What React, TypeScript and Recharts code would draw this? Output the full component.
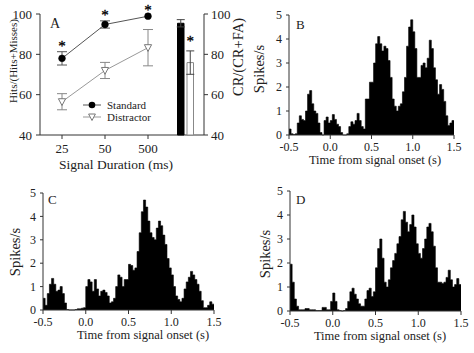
import React from 'react';
import {
  ComposedChart,
  AreaChart,
  Area,
  BarChart,
  Bar,
  Cell,
  Line,
  XAxis,
  YAxis,
  ErrorBar,
  LabelList,
  Label,
  Legend,
} from 'recharts';

// ---------------- Panel A data ----------------
const durations = ['25', '50', '500'];
const standardHits = [78.0, 94.8, 98.9];
const standardSE = [3.3, 1.8, 0];
const distractorHits = [56.5, 72.0, 83.3];
const distractorSE = [4.0, 4.0, 9.0];
const standardSig = [true, true, true];
const seriesNames = ['Standard', 'Distractor'];
const crGroups = ['Standard', 'Distractor'];
const crRate = [95.4, 75.9];
const crSE = [1.8, 5.8];
const crSig = [false, true];
const pctTicks = [40, 60, 80, 100];

// ---------------- Histogram data (0.025 s bins from -0.5 s to 1.5 s) ----------------
const binStart = -0.5;
const binWidth = 0.025;
const timeTicks = [-0.5, 0, 0.5, 1, 1.5];
const rateTicks = [0, 1, 2, 3, 4, 5];

const spikesB = [
  0.25, 0.05, 0.02, 0.05, 0.5, 0.8, 0.65, 0.6, 1.0, 1.7,
  1.85, 1.3, 1.0, 0.9, 0.5, 0.1, 0, 0.6, 0.75, 0.5,
  0.6, 0.85, 0.65, 0.45, 0.35, 0.1, 0, 0, 0.05, 0.35,
  0.55, 0.45, 0.6, 0.9, 0.6, 0.35, 0.25, 1.5, 1.5, 2.2,
  2.2, 3.0, 3.8, 4.1, 3.8, 3.5, 3.7, 3.6, 3.1, 2.4,
  1.5, 1.2, 1.0, 1.2, 1.3, 1.8, 2.4, 3.7, 4.5, 4.8,
  4.3, 3.6, 2.4, 2.4, 2.9, 3.0, 2.8, 3.2, 3.95, 3.6,
  2.8, 2.3, 1.7, 2.1, 1.9, 1.4, 0.8, 0.4, 0.5, 0.6,
];

const spikesC = [
  0.5, 0.2, 0.7, 1.1, 1.35, 1.1, 0.8, 0.85, 1.0, 0.7,
  0.3, 0.02, 0, 0, 0, 0.02, 0.05, 0.05, 0.08, 0.1,
  1.0, 1.3, 1.2, 0.8, 1.3, 0.9, 0.6, 0.8, 0.85, 0.75,
  0.6, 0.3, 0.35, 0.5, 1.0, 1.5, 1.4, 1.0, 1.3, 1.3,
  1.95, 1.9, 1.7, 1.8, 2.5, 3.3, 4.2, 4.7, 4.4, 3.8,
  3.3, 3.1, 3.0, 3.5, 3.8, 3.6, 3.2, 2.8, 2.2, 1.8,
  1.5, 1.0, 0.6, 0.45, 0.35, 0.5, 0.9, 1.2, 1.4, 1.65,
  1.5, 1.3, 1.1, 0.8, 0.4, 0.1, 0.1, 0.2, 0.35, 0.25,
];

const spikesD = [
  1.95, 1.2, 0.5, 0.2, 0.05, 0.05, 0.05, 0.1, 0.1, 0.05,
  0.05, 0.05, 0.02, 0.02, 0.02, 0.15, 0.15, 0.05, 0.05, 0.4,
  0.75, 0.4, 0.05, 0.02, 0, 0.02, 0.1, 0.4, 0.8, 0.95,
  0.7, 0.5, 0.3, 0.2, 0.2, 0.5, 0.85, 0.95, 0.6, 0.8,
  1.8, 2.6, 3.0, 2.2, 1.2, 1.0, 1.3, 1.8, 2.1, 2.4,
  2.8, 3.1, 3.8, 4.15, 3.7, 3.3, 3.6, 4.0, 3.5, 2.8,
  2.4, 2.2, 2.6, 3.0, 3.5, 3.65, 3.3, 2.7, 1.8, 1.2,
  1.2, 1.15, 1.2, 1.4, 1.7, 1.3, 1.0, 1.1, 1.35, 1.1,
];

// ---------------- styling ----------------
const FONT = '"Liberation Serif", "Times New Roman", Times, serif';
const AX = '#333';
const TXT = '#222';

const perfData = durations.map((d, i) => ({
  dur: d,
  std: standardHits[i],
  stdErr: standardSE[i],
  dis: distractorHits[i],
  disErr: distractorSE[i],
}));

const crData = crGroups.map((g, i) => ({ name: g, value: crRate[i], err: crSE[i] }));

// step histogram table: each bin starts at its left edge; closing point at the right end
const toTable = (arr: number[]) => {
  const rows = arr.map((v, i) => ({ t: +(binStart + i * binWidth).toFixed(4), rate: v }));
  rows.push({ t: +(binStart + arr.length * binWidth).toFixed(4), rate: arr[arr.length - 1] });
  return rows;
};

const txt = (x: number, y: number, s: string, size: number, extra: any = {}) => () =>
  (
    <text x={x} y={y} fontSize={size} fontFamily={FONT} fill={TXT} {...extra}>
      {s}
    </text>
  );

const vtxt = (cx: number, cy: number, s: string, size: number) => () =>
  (
    <text
      x={cx}
      y={cy}
      fontSize={size}
      fontFamily={FONT}
      fill={TXT}
      textAnchor="middle"
      dominantBaseline="central"
      transform={`rotate(-90, ${cx}, ${cy})`}
    >
      {s}
    </text>
  );

const PPU_A = 121 / 60;

const starLabel = (errs: number[], sig: boolean[], gap: number) => (props: any) => {
  const vb = props.viewBox || {};
  const x0 = props.x ?? vb.x;
  const w = props.width ?? vb.width ?? 0;
  const y = props.y ?? vb.y;
  const i = props.index;
  if (!sig[i] || x0 == null || y == null) return null;
  const x = x0 + w / 2;
  const c = y - errs[i] * PPU_A - gap;
  return (
    <text x={x} y={c + 7} textAnchor="middle" fontSize={15} fontFamily={FONT} fill="#000" stroke="#000" strokeWidth={0.3}>
      *
    </text>
  );
};

const TriDown = (props: any) => {
  const { cx, cy } = props;
  if (cx == null || cy == null) return null;
  return (
    <path
      d={`M${cx - 3.6},${cy - 3} L${cx + 3.6},${cy - 3} L${cx},${cy + 3.8} Z`}
      fill="#fff"
      stroke="#777"
      strokeWidth={1}
    />
  );
};

const renderLegend = (props: any) => {
  const payload = [...(props.payload || [])].sort(
    (a: any, b: any) => seriesNames.indexOf(a.value) - seriesNames.indexOf(b.value)
  );
  return (
    <div style={{ fontFamily: FONT, fontSize: 11, color: TXT, lineHeight: '12px' }}>
      {payload.map((p: any) => (
        <div key={p.value} style={{ display: 'flex', alignItems: 'center', height: 12 }}>
          <svg width={22} height={10} style={{ display: 'block' }}>
            <line x1={1} y1={5} x2={19} y2={5} stroke={p.value === 'Standard' ? '#555' : '#999'} />
            {p.value === 'Standard' ? (
              <circle cx={10} cy={5} r={3.3} fill="#000" />
            ) : (
              <path d="M6.6,2 L13.4,2 L10,8.5 Z" fill="#fff" stroke="#777" />
            )}
          </svg>
          <span style={{ marginLeft: 3 }}>{p.value}</span>
        </div>
      ))}
    </div>
  );
};

const tickStyle = (size: number) => ({ fontSize: size, fill: TXT, fontFamily: FONT });

type HistProps = {
  data: number[];
  left: number;
  top: number;
  width: number;
  height: number;
  margin: { top: number; right: number; left: number; bottom: number };
  yAxisWidth: number;
  xAxisHeight: number;
  letter: string;
  letterPos: [number, number];
  yLabelPos: [number, number];
  titlePos: [number, number];
};

const Histogram = (p: HistProps) => (
  <div style={{ position: 'absolute', left: p.left, top: p.top, width: p.width, height: p.height }}>
    <AreaChart width={p.width} height={p.height} data={toTable(p.data)} margin={p.margin}>
      <XAxis
        dataKey="t"
        type="number"
        domain={[-0.5, 1.5]}
        ticks={timeTicks}
        interval={0}
        allowDataOverflow
        tickFormatter={(v: number) => v.toFixed(1)}
        height={p.xAxisHeight}
        tickSize={4}
        tickMargin={3}
        stroke={AX}
        tick={tickStyle(12)}
      >
        <Label content={txt(p.titlePos[0], p.titlePos[1], 'Time from signal onset (s)', 12.5, { textAnchor: 'middle' })} />
      </XAxis>
      <YAxis
        domain={[0, 5]}
        ticks={rateTicks}
        interval={0}
        width={p.yAxisWidth}
        tickSize={3}
        tickMargin={4}
        stroke={AX}
        tick={tickStyle(12)}
      >
        <Label content={vtxt(p.yLabelPos[0], p.yLabelPos[1], 'Spikes/s', 14.5)} />
        <Label content={txt(p.letterPos[0], p.letterPos[1], p.letter, 13)} />
      </YAxis>
      <Area
        type="stepAfter"
        dataKey="rate"
        baseValue={0}
        fill="#000"
        fillOpacity={1}
        stroke="#000"
        strokeWidth={0.6}
        dot={false}
        activeDot={false}
        isAnimationActive={false}
      />
    </AreaChart>
  </div>
);

export default function App() {
  return (
    <div style={{ position: 'absolute', left: 0, top: 0, width: 474, height: 353, background: '#fff', overflow: 'hidden' }}>
      {/* Panel A: detection lines */}
      <div style={{ position: 'absolute', left: 0, top: 0, width: 250, height: 175 }}>
        <ComposedChart width={250} height={175} data={perfData} margin={{ top: 14, right: 46, bottom: 0, left: 0 }}>
          <XAxis
            dataKey="dur"
            type="category"
            padding={{ left: 22, right: 56 }}
            height={40}
            tickSize={4}
            tickMargin={5}
            interval={0}
            stroke={AX}
            tick={tickStyle(13)}
          >
            <Label content={txt(116, 168.5, 'Signal Duration (ms)', 13.5, { textAnchor: 'middle' })} />
          </XAxis>
          <YAxis
            domain={[40, 100]}
            ticks={pctTicks}
            interval={0}
            width={40}
            tickSize={4}
            tickMargin={4}
            stroke={AX}
            tick={tickStyle(13)}
          >
            <Label content={vtxt(13, 61, 'Hits/(Hits+Misses)', 11)} />
            <Label content={txt(50, 28, 'A', 14)} />
          </YAxis>
          <Line
            name="Standard"
            dataKey="std"
            stroke="#555"
            strokeWidth={1}
            dot={{ r: 3.4, fill: '#000', stroke: '#000', strokeWidth: 0.5 }}
            isAnimationActive={false}
          >
            <ErrorBar dataKey="stdErr" width={5} stroke="#555" strokeWidth={1} />
            <LabelList dataKey="std" content={starLabel(standardSE, standardSig, 8)} />
          </Line>
          <Line
            name="Distractor"
            dataKey="dis"
            stroke="#999"
            strokeWidth={1}
            dot={<TriDown />}
            isAnimationActive={false}
          >
            <ErrorBar dataKey="disErr" width={5} stroke="#888" strokeWidth={1} />
          </Line>
          <Legend
            layout="vertical"
            align="center"
            verticalAlign="middle"
            content={renderLegend}
            wrapperStyle={{ position: 'absolute', left: 82, top: 99, width: 90, height: 26 }}
          />
        </ComposedChart>
      </div>

      {/* Panel A: CR/(CR+FA) bars with right axis */}
      <div style={{ position: 'absolute', left: 175, top: 0, width: 75, height: 175 }}>
        <BarChart width={75} height={175} data={crData} margin={{ top: 14, right: 0, bottom: 40, left: 0 }} barCategoryGap={0}>
          <XAxis dataKey="name" hide padding={{ left: 0.5, right: 9.5 }} />
          <YAxis
            orientation="right"
            domain={[40, 100]}
            ticks={pctTicks}
            interval={0}
            width={46}
            tickSize={4}
            tickMargin={3}
            stroke={AX}
            tick={tickStyle(13)}
          >
            <Label content={vtxt(63, 57, 'CR/(CR+FA)', 14.5)} />
          </YAxis>
          <Bar dataKey="value" barSize={6.5} isAnimationActive={false} strokeWidth={1}>
            {crData.map((d, i) => (
              <Cell key={d.name} fill={i === 0 ? '#000' : '#fff'} stroke={i === 0 ? '#000' : '#888'} />
            ))}
            <ErrorBar dataKey="err" width={4} stroke="#444" strokeWidth={1} />
            <LabelList dataKey="value" content={starLabel(crSE, crSig, 12)} />
          </Bar>
        </BarChart>
      </div>

      <Histogram
        data={spikesB}
        left={237}
        top={0}
        width={237}
        height={175}
        margin={{ top: 15, right: 20, bottom: 0, left: 0 }}
        yAxisWidth={52}
        xAxisHeight={40}
        letter="B"
        letterPos={[59, 29]}
        yLabelPos={[22, 69]}
        titlePos={[138, 164]}
      />
      <Histogram
        data={spikesC}
        left={0}
        top={175}
        width={237}
        height={178}
        margin={{ top: 18, right: 23, bottom: 0, left: 0 }}
        yAxisWidth={43}
        xAxisHeight={43}
        letter="C"
        letterPos={[48, 29]}
        yLabelPos={[15, 77]}
        titlePos={[143, 164]}
      />
      <Histogram
        data={spikesD}
        left={237}
        top={175}
        width={237}
        height={178}
        margin={{ top: 16, right: 13, bottom: 0, left: 0 }}
        yAxisWidth={53}
        xAxisHeight={42}
        letter="D"
        letterPos={[59, 29]}
        yLabelPos={[28, 79]}
        titlePos={[143, 164.5]}
      />
    </div>
  );
}
